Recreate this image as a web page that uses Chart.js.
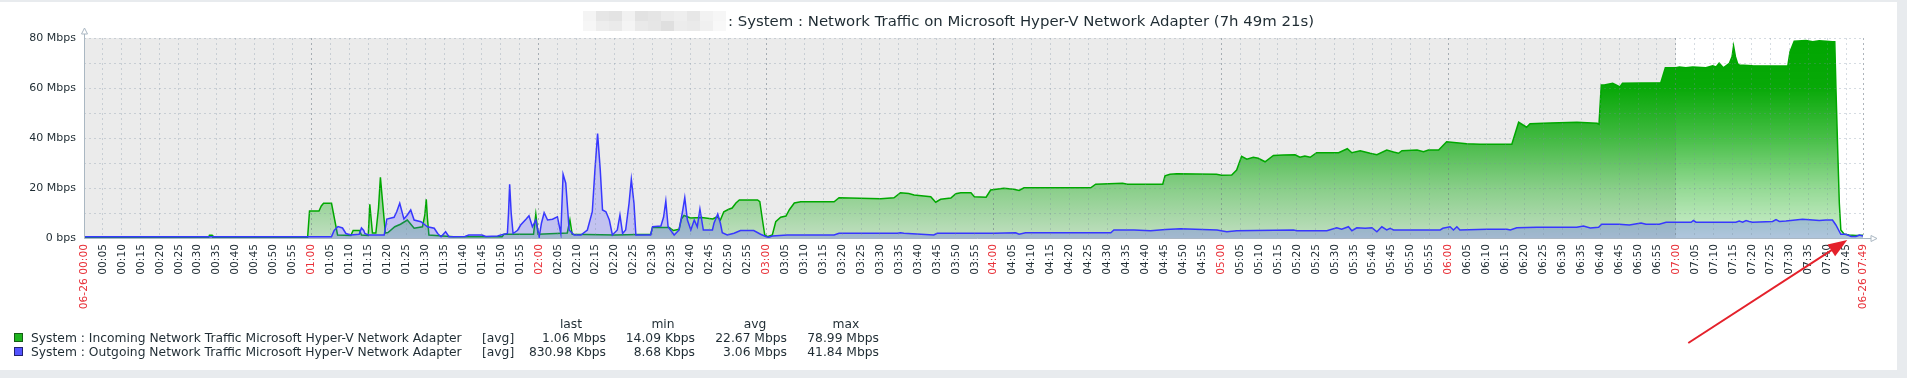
<!DOCTYPE html>
<html>
<head>
<meta charset="utf-8">
<script src="https://cdn.jsdelivr.net/npm/chart.js@4.4.1/dist/chart.umd.min.js"></script>
<style>
  body{margin:0;background:#e8ebee;width:1907px;height:378px;overflow:hidden;font-family:"DejaVu Sans",sans-serif;color:#1f2c33}
  #panel{position:absolute;left:0;top:2px;width:1897px;height:368px;background:#fff}
  #wrap{position:absolute;left:0;top:0;width:1897px;height:368px}
  #title{position:absolute;top:9px;left:0;width:1897px;text-align:center;font-size:14.9px;line-height:20px;white-space:nowrap}
  #blur{display:inline-grid;grid-template-columns:repeat(11,13px);grid-template-rows:10px 10px;vertical-align:top;margin-right:2px}
  .leg{position:absolute;font-size:12.3px;line-height:14px;white-space:nowrap}
  .sq{position:absolute;width:7px;height:7px;border:1px solid}
  .col{width:90px;text-align:right}
  .hd{width:80px;text-align:center}
</style>
</head>
<body>
<div id="panel">
  <div id="wrap"><canvas id="c"></canvas></div>
  <div id="title"><span id="blur"></span>: System : Network Traffic on Microsoft Hyper-V Network Adapter (7h 49m 21s)</div>
  <div id="legend"></div>
</div>
<script>
// time in minutes since 06-26 00:00, value in Mbps
const incoming = [[0,0.3],[32.9,0.3],[33.1,1.1],[33.8,1.1],[34,0.3],[59.0,0.3],[59.5,10.8],[62.0,10.8],[62.6,12.8],[63.2,13.9],[65.3,13.9],[66.9,1.2],[70.4,1.0],[71.0,3.0],[72.7,3.0],[73.2,1.2],[75.0,1.0],[75.4,13.5],[76.1,2.0],[77.0,2.0],[77.7,12],[78.2,24.3],[78.8,14],[79.5,2.0],[80.2,2.2],[82.0,4.5],[83.5,5.5],[85.3,7.2],[87.1,3.9],[89.3,4.5],[89.9,9],[90.3,15.5],[90.6,8],[91.0,1.2],[97.5,0.5],[110.3,0.5],[110.8,1.5],[118.6,1.5],[119.2,9.5],[119.8,1.5],[127.5,2.0],[128.2,7.2],[128.8,1.5],[140.0,1.2],[149.5,1.5],[150.0,4.2],[154.4,4.2],[155.5,3.0],[157.0,3.5],[157.6,7.6],[158.3,9.0],[160,8.0],[163.0,8.2],[165.9,7.6],[167.0,8.5],[167.9,7.2],[168.8,10.5],[170.1,11.5],[171.0,12],[172,14],[172.9,15.2],[177.7,15.2],[178.3,14.5],[179.0,7.2],[179.6,1.2],[180.3,0.5],[181.6,1.2],[182.5,6.5],[183.8,8.3],[185.2,8.8],[186.1,11.3],[187.4,14],[189.1,14.5],[197.9,14.5],[199.2,16.1],[210.2,15.7],[213.7,16.1],[215.4,18.1],[217.6,17.8],[219.0,17.2],[223.4,16.5],[224.7,14.3],[226.0,15.5],[228.7,16.0],[230.0,17.7],[231.3,18.1],[234.0,18.1],[234.9,16.5],[238.0,16.3],[239.2,19.2],[242.7,19.9],[245.3,19.5],[246.7,19.0],[248.0,20.1],[265.6,20.1],[266.9,21.5],[274.0,21.9],[275.3,21.5],[284.6,21.5],[285.2,24.9],[286.5,25.5],[288.3,25.7],[298.8,25.5],[300.1,25.1],[302.8,25.2],[304.1,27.2],[305.4,32.7],[306.8,31.5],[308.5,32.3],[309.8,31.9],[311.6,30.5],[313.8,33.0],[316.4,33.2],[319.5,33.3],[320.8,32.3],[322.1,32.8],[323.5,32.3],[325.2,34.1],[331.0,34.1],[333.3,35.7],[334.5,34.1],[336.7,34.9],[339.3,33.9],[341.1,33.3],[343.7,35.2],[345.5,34.4],[346.8,33.9],[347.7,34.9],[351.7,35.2],[353.4,34.5],[354.7,35.2],[357.4,35.2],[359.5,38.5],[364.8,37.7],[368.3,37.5],[376.7,37.5],[378.5,46.3],[380.6,44.3],[381.5,45.7],[386.8,46.0],[393.9,46.3],[399.2,45.9],[399.7,45.5],[400.3,61.2],[401.1,61.2],[403.3,61.9],[404.2,61.2],[405.2,60.4],[405.9,61.9],[416.0,62.1],[417.2,68.1],[420,68.1],[420.9,68.4],[422.6,68.1],[424.4,68.4],[427.9,68.1],[429.7,68.9],[430.6,68.4],[431.4,69.9],[432.5,68.1],[434.1,69.9],[434.8,72.5],[435.2,76.8],[435.7,72.5],[436.3,69.6],[436.7,69.2],[440.2,68.9],[447.3,68.8],[449.5,68.8],[450.1,74.5],[451.2,78.7],[454.3,79.0],[456.1,78.5],[457.8,78.9],[459.6,78.7],[461.3,78.5],[461.9,78.5],[462.2,60.5],[462.7,34],[463.1,14],[463.5,3.2],[464.4,1.5],[465.7,1.2],[467.5,1.0],[469.35,1.06]];

const outgoing = [[0,0.55],[65.3,0.55],[66.0,3.0],[67.0,4.6],[68.2,4.0],[69.1,1.8],[70.4,1.2],[72.6,1.5],[73.2,4.0],[73.8,3.0],[74.1,1.8],[75.0,1.2],[79.2,1.2],[79.9,7.6],[81.8,8.3],[82.5,10.5],[83.3,13.9],[84.4,7.6],[85.2,9.0],[86.2,11.2],[87.1,7.2],[88.9,6.5],[90.6,4.5],[92.4,3.9],[93.3,1.8],[94.2,0.5],[95.4,2.5],[96.3,0.5],[100.5,0.6],[101.5,1.2],[105.0,1.2],[106,0.6],[109.1,0.8],[110,1.2],[111.7,1.8],[112.0,10],[112.3,21.5],[112.7,10],[113.2,1.8],[114.4,3.1],[115.2,5.2],[116.6,7.5],[117.4,8.9],[118.3,4.5],[119.2,7.2],[120.1,0.5],[120.7,6],[121.4,10.1],[122.3,7.2],[123.6,7.5],[124.9,8.5],[125.8,1.8],[126.4,25.5],[127.1,21.9],[128.0,3.2],[129.3,1.2],[131.1,1.2],[132.8,3.2],[134.1,10.5],[134.8,27.3],[135.5,41.8],[136.2,27.3],[136.8,11.2],[137.7,10.5],[138.6,7.2],[139.4,1.2],[140.7,3.2],[141.4,9.2],[142.1,1.8],[142.9,3.2],[143.8,13.9],[144.4,23.5],[145.1,13.9],[145.6,1.2],[149.5,1.2],[150.0,4.5],[152.2,4.8],[152.9,8.3],[153.5,14.8],[154.1,4.5],[155.7,1.2],[157.0,3.2],[157.9,10.5],[158.5,16.1],[159.2,7.2],[160.1,3.2],[161.0,7.2],[161.8,4.5],[162.5,11.6],[163.4,3.2],[165.8,3.2],[166.2,5.9],[167.2,9.6],[167.9,5.9],[168.4,2.1],[169.7,1.2],[171.5,1.9],[173.2,3.0],[176.7,3.0],[178.5,1.5],[180,0.5],[180.7,0.3],[181.6,0.8],[185.5,1.2],[197.9,1.2],[199.2,1.9],[214.6,1.9],[215.4,2.1],[216.3,1.9],[224.2,1.2],[225.1,1.9],[240.1,1.9],[245.8,2.1],[246.7,1.5],[248.4,2.1],[270.9,2.1],[271.7,3.2],[277.0,3.2],[281.4,2.9],[285.4,3.4],[289.3,3.7],[298.9,3.2],[301.5,2.5],[304.1,2.9],[319.1,3.2],[320.0,2.9],[327.9,2.9],[330.5,4.1],[331.8,3.5],[333.6,4.5],[334.5,2.9],[335.8,4.1],[338.0,3.9],[339.8,4.1],[341.1,2.5],[342.4,4.5],[343.7,3.2],[344.6,3.9],[345.5,3.2],[357.8,3.2],[358.5,3.9],[360.4,4.5],[361.3,3.2],[362.2,4.5],[363,3.2],[370.1,3.5],[375.4,3.5],[376.3,3.2],[378.0,4.1],[383.3,4.3],[393.8,4.3],[395.6,4.8],[397.4,4.0],[399.6,4.3],[400.4,5.5],[405,5.5],[407.7,5.2],[410.8,6.0],[412.1,5.5],[415.6,5.5],[417.4,6.3],[424,6.3],[424.6,7.0],[425.3,6.3],[435.8,6.3],[436.7,6.8],[437.6,6.3],[438.5,7.0],[439.3,6.6],[440.2,6.3],[445.5,6.6],[446.4,7.4],[447.3,6.6],[449,6.8],[453.4,7.5],[456.1,7.2],[457.8,7.0],[459.6,7.2],[461.3,7.2],[462.2,5.2],[463.5,1.5],[464.9,1.5],[466.2,0.6],[467.5,0.6],[468.4,1.2],[469.35,0.83]];

const periodEnd = 469.35;          // 7h 49m 21s
const workStart = 420;             // 07:00, white background from here
const yLabels = {0:'0 bps',20:'20 Mbps',40:'40 Mbps',60:'60 Mbps',80:'80 Mbps'};
const xTicks = [];
for (let m = 0; m < periodEnd; m += 5) xTicks.push(m);
xTicks.push(periodEnd);

const legendRows = [
  {name:'System : Incoming Network Traffic Microsoft Hyper-V Network Adapter', fill:'#1fb51f', edge:'#155e15', last:'1.06 Mbps', min:'14.09 Kbps', avg:'22.67 Mbps', max:'78.99 Mbps'},
  {name:'System : Outgoing Network Traffic Microsoft Hyper-V Network Adapter', fill:'#5353ff', edge:'#22226e', last:'830.98 Kbps', min:'8.68 Kbps', avg:'3.06 Mbps', max:'41.84 Mbps'}
];
const blurShades = ['f4f4f4','e6e6e6','e3e3e3','f1f1f1','e2e2e2','e5e5e5','ebebeb','eeeeee','e7e7e7','f2f2f2','f6f6f6',
                    'f6f6f6','ededed','eaeaea','f4f4f4','e9e9e9','e6e6e6','dfdfdf','ececec','eaeaea','f0f0f0','f8f8f8'];

document.getElementById('blur').innerHTML = blurShades.map(s=>`<span style="background:#${s}"></span>`).join('');

const pad = n => String(n).padStart(2,'0');
const fmtMin = v => {
  if (v >= periodEnd) return '06-26 07:49';
  const t = pad(Math.floor(v/60)) + ':' + pad(Math.round(v%60));
  return v === 0 ? '06-26 ' + t : t;
};
const isRed = v => v % 60 === 0 || v >= periodEnd;

// legend
const L = document.getElementById('legend');
let html = '';
[['last',571],['min',663],['avg',755],['max',846]].forEach(([h,c])=>{
  html += `<div class="leg hd" style="top:315px;left:${c-40}px">${h}</div>`;
});
legendRows.forEach((r,i)=>{
  const top = 329 + i*14;
  html += `<div class="sq" style="top:${top+2}px;left:14px;background:${r.fill};border-color:${r.edge}"></div>`;
  html += `<div class="leg" style="top:${top}px;left:31px">${r.name}</div>`;
  html += `<div class="leg" style="top:${top}px;left:482px">[avg]</div>`;
  [[r.last,606],[r.min,695],[r.avg,787],[r.max,879]].forEach(([v,rgt])=>{
    html += `<div class="leg col" style="top:${top}px;left:${rgt-90}px">${v}</div>`;
  });
});
L.innerHTML = html;

const bgPlugin = {
  id:'bg',
  beforeDraw(chart){
    const {ctx, chartArea:a, scales:{x}} = chart;
    const xw = x.getPixelForValue(workStart);
    ctx.save();
    ctx.fillStyle = '#ebebeb';
    ctx.fillRect(a.left, a.top, xw - a.left, a.bottom - a.top);
    ctx.restore();
  },
  afterDraw(chart){
    const {ctx, chartArea:a, scales:{x}} = chart;
    ctx.save();
    ctx.strokeStyle = '#aab7c2'; ctx.lineWidth = 1;
    const lx = Math.round(a.left) + 0.5, by = Math.round(a.bottom) + 0.5;
    ctx.beginPath(); ctx.moveTo(lx, by); ctx.lineTo(lx, a.top - 4); ctx.stroke();
    ctx.beginPath(); ctx.moveTo(lx, a.top - 10); ctx.lineTo(lx - 3, a.top - 4); ctx.lineTo(lx + 3, a.top - 4); ctx.closePath(); ctx.stroke();
    const rx = a.right + 8;
    ctx.beginPath(); ctx.moveTo(lx, by); ctx.lineTo(rx, by); ctx.stroke();
    ctx.beginPath(); ctx.moveTo(rx + 6, by); ctx.lineTo(rx, by - 3); ctx.lineTo(rx, by + 3); ctx.closePath(); ctx.stroke();
    // red pointer arrow
    const tx = x.getPixelForValue(465.2), ty = a.bottom + 2;
    const sx = tx - 159, sy = ty + 103;
    const ang = Math.atan2(ty - sy, tx - sx);
    ctx.strokeStyle = '#e4212b'; ctx.fillStyle = '#e4212b'; ctx.lineWidth = 2;
    ctx.beginPath(); ctx.moveTo(sx, sy); ctx.lineTo(tx - 14*Math.cos(ang), ty - 14*Math.sin(ang)); ctx.stroke();
    ctx.beginPath();
    ctx.moveTo(tx, ty);
    ctx.lineTo(tx - 19*Math.cos(ang) + 7*Math.sin(ang), ty - 19*Math.sin(ang) - 7*Math.cos(ang));
    ctx.lineTo(tx - 19*Math.cos(ang) - 7*Math.sin(ang), ty - 19*Math.sin(ang) + 7*Math.cos(ang));
    ctx.closePath(); ctx.fill();
    ctx.restore();
  }
};

const greenFill = c => {
  const a = c.chart.chartArea;
  if (!a) return 'rgba(0,166,0,0.5)';
  const g = c.chart.ctx.createLinearGradient(0, a.top, 0, a.bottom);
  g.addColorStop(0, 'rgba(0,166,0,1)');
  g.addColorStop(0.25, 'rgba(0,166,0,0.97)');
  g.addColorStop(0.5, 'rgba(0,166,0,0.72)');
  g.addColorStop(0.75, 'rgba(0,166,0,0.42)');
  g.addColorStop(1, 'rgba(0,166,0,0.18)');
  return g;
};

Chart.defaults.font.family = '"DejaVu Sans", sans-serif';
new Chart(document.getElementById('c'), {
  type:'line',
  data:{ datasets:[
    {label:'Incoming', data: incoming.map(p=>({x:p[0], y:p[1]})), borderColor:'#00a800', borderWidth:1.5,
     backgroundColor: greenFill, fill:'origin', pointRadius:0, tension:0, order:2},
    {label:'Outgoing', data: outgoing.map(p=>({x:p[0], y:p[1]})), borderColor:'#3737ff', borderWidth:1.5,
     backgroundColor:'rgba(70,70,255,0.25)', fill:'origin', pointRadius:0, tension:0, order:1}
  ]},
  options:{
    responsive:true, maintainAspectRatio:false, animation:false,
    layout:{ padding:{ top:36, right:34, left:0, bottom:0 } },
    plugins:{ legend:{display:false}, tooltip:{enabled:false} },
    scales:{
      x:{ type:'linear', min:0, max:periodEnd,
        afterBuildTicks: s => { s.ticks = xTicks.map(v=>({value:v})); },
        afterFit: s => { s.height = 132; },
        grid:{ z:1, drawTicks:false, lineWidth:1,
          color: c => (c.tick && isRed(c.tick.value)) ? 'rgba(110,122,134,0.55)' : 'rgba(120,140,160,0.3)' },
        border:{ display:false, dash:[2,3] },
        ticks:{ autoSkip:false, minRotation:90, maxRotation:90, padding:6,
          font:{ size:10.7 }, color: c => isRed(c.tick.value) ? '#e8323a' : '#1f2c33',
          callback: v => fmtMin(v) }
      },
      y:{ min:0, max:80,
        afterFit: s => { s.width = 84; },
        grid:{ z:1, drawTicks:false, lineWidth:1, color:'rgba(120,140,160,0.3)' },
        border:{ display:false, dash:[2,3] },
        ticks:{ stepSize:10, padding:8, font:{ size:11 }, color:'#1f2c33',
          callback: v => yLabels[v] ?? '' }
      }
    }
  },
  plugins:[bgPlugin]
});
</script>
</body>
</html>
